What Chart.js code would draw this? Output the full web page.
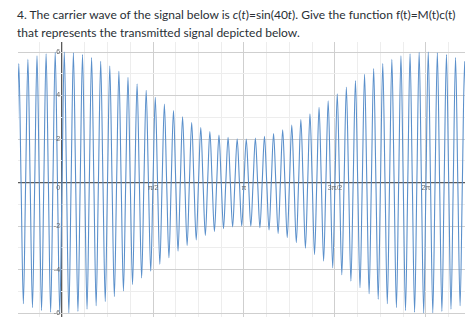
<!DOCTYPE html>
<html>
<head>
<meta charset="utf-8">
<script src="https://cdn.jsdelivr.net/npm/chart.js@4.4.1/dist/chart.umd.min.js"></script>
<style>
  body { margin: 0; background: #fff; }
  #q {
    position: absolute; left: 17px; top: 6px;
    font-family: Lato, "Open Sans", sans-serif; font-size: 12px; line-height: 18px;
    color: #2a2f35; white-space: nowrap;
  }
  #wrap { position: absolute; left: 18px; top: 42px; width: 447px; height: 275px; }
</style>
</head>
<body>
<div id="q">4. The carrier wave of the signal below is <i>c</i>(<i>t</i>)=sin(40<i>t</i>). Give the function f(t)=M(t)c(t)<br>that represents the transmitted signal depicted below.</div>
<div id="wrap"><canvas id="graph" width="447" height="275"></canvas></div>
<script>
// carrier c(t)=sin(40t) -> one extreme every pi/40
const carrierFreq = 40;
const tStart = -Math.PI / 4;   // zero crossing just left of the view

// peak / trough of each half cycle (left to right)
const extremes = [
   5.47, -5.57,  5.66, -5.75,  5.82, -5.88,  5.92, -5.96,  5.99, -6.00,
   6.00, -5.99,  5.96, -5.92,  5.88, -5.82,  5.75, -5.66,  5.57, -5.47,
   5.36, -5.24,  5.11, -4.98,  4.84, -4.69,  4.54, -4.39,  4.24, -4.08,
   3.92, -3.76,  3.61, -3.46,  3.31, -3.16,  3.02, -2.89,  2.76, -2.64,
   2.53, -2.43,  2.34, -2.25,  2.18, -2.12,  2.08, -2.04,  2.01, -2.00,
   2.00, -2.01,  2.04, -2.08,  2.12, -2.18,  2.25, -2.34,  2.43, -2.53,
   2.64, -2.76,  2.89, -3.02,  3.16, -3.31,  3.46, -3.61,  3.76, -3.92,
   4.08, -4.24,  4.39, -4.54,  4.69, -4.84,  4.98, -5.11,  5.24, -5.36,
   5.47, -5.57,  5.66, -5.75,  5.82, -5.88,  5.92, -5.96,  5.99, -6.00,
   6.00, -5.99,  5.96, -5.92,  5.88, -5.82,  5.75, -5.66,  5.57
];

// axis labels
const xTickValues = [Math.PI / 2, Math.PI, 3 * Math.PI / 2, 2 * Math.PI];
const xTickLabels = ['π/2', 'π', '3π/2', '2π'];
const yTickValues = [6, 4, 2, -2, -4, -6];
const yTickLabels = ['6', '4', '2', '-2', '-4', '-6'];

const X_MIN = -0.76, X_MAX = 6.957;
const Y_MIN = -6.18, Y_MAX = 6.46;

// points: zero crossing, extreme, zero crossing ...
const half = Math.PI / carrierFreq;
let points = [];
extremes.forEach(function(v, i) {
    points.push({ x: tStart + i * half, y: 0 });
    points.push({ x: tStart + (i + 0.5) * half, y: v });
});
points.push({ x: tStart + extremes.length * half, y: 0 });

const MINOR = '#ededed', MAJOR = '#cfcfcf', AXIS = '#5a5a5a';

// desmos style labels next to the axes
const axisLabels = {
    id: 'axisLabels',
    afterDraw: function(chart) {
        let ctx = chart.ctx;
        let xs = chart.scales.x, ys = chart.scales.y;
        let x0 = xs.getPixelForValue(0), y0 = ys.getPixelForValue(0);
        ctx.save();
        ctx.font = '7px "Liberation Sans", Arial, sans-serif';
        ctx.fillStyle = '#666';
        ctx.textAlign = 'center';
        ctx.textBaseline = 'top';
        for (let i = 0; i < xTickValues.length; i++) {
            ctx.fillText(xTickLabels[i], xs.getPixelForValue(xTickValues[i]), y0 + 2);
        }
        ctx.textAlign = 'right';
        ctx.textBaseline = 'middle';
        for (let i = 0; i < yTickValues.length; i++) {
            ctx.fillText(yTickLabels[i], x0 - 2, ys.getPixelForValue(yTickValues[i]));
        }
        ctx.textBaseline = 'top';
        ctx.fillText('0', x0 - 2, y0 + 2);
        ctx.restore();
    }
};

new Chart(document.getElementById('graph').getContext('2d'), {
    type: 'line',
    data: {
        datasets: [{
            data: points,
            borderColor: '#5b90cb',
            borderWidth: 1.1,
            pointRadius: 0,
            fill: false,
            cubicInterpolationMode: 'monotone'
        }]
    },
    options: {
        responsive: false,
        animation: false,
        layout: { padding: 0 },
        plugins: { legend: { display: false }, tooltip: { enabled: false } },
        scales: {
            x: {
                type: 'linear', min: X_MIN, max: X_MAX,
                afterBuildTicks: function(axis) {
                    let step = Math.PI / 8, ticks = [];
                    for (let k = Math.ceil(X_MIN / step); k * step <= X_MAX; k++) ticks.push({ value: k * step });
                    axis.ticks = ticks;
                },
                ticks: { display: false },
                border: { display: false },
                grid: {
                    drawTicks: false,
                    color: function(c) {
                        let k = Math.round(c.tick.value / (Math.PI / 8));
                        return k === 0 ? AXIS : (k % 4 === 0 ? MAJOR : MINOR);
                    },
                    lineWidth: function(c) {
                        return Math.round(c.tick.value / (Math.PI / 8)) === 0 ? 1.3 : 1;
                    }
                }
            },
            y: {
                type: 'linear', min: Y_MIN, max: Y_MAX,
                afterBuildTicks: function(axis) {
                    let ticks = [];
                    for (let v = -6; v <= 6; v++) ticks.push({ value: v });
                    axis.ticks = ticks;
                },
                ticks: { display: false },
                border: { display: false },
                grid: {
                    drawTicks: false,
                    color: function(c) {
                        let v = c.tick.value;
                        return v === 0 ? AXIS : (v % 2 === 0 ? MAJOR : MINOR);
                    },
                    lineWidth: function(c) { return c.tick.value === 0 ? 1.3 : 1; }
                }
            }
        }
    },
    plugins: [axisLabels]
});
</script>
</body>
</html>
